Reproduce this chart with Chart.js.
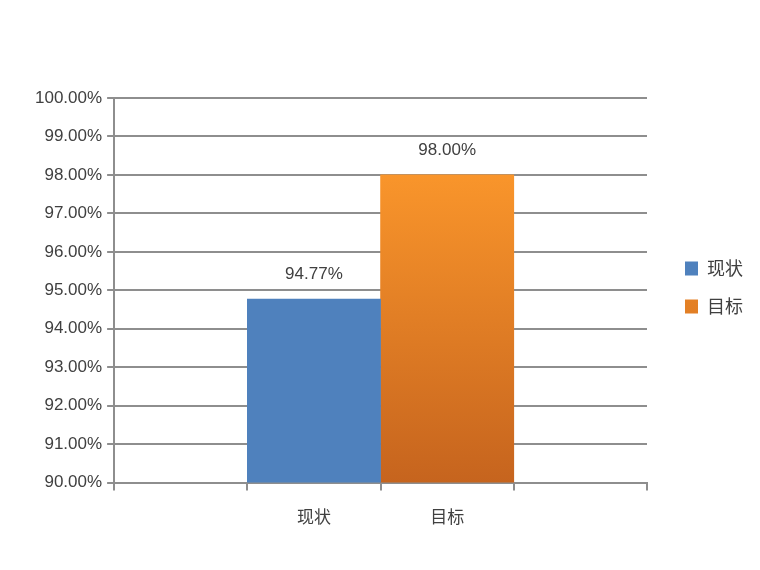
<!DOCTYPE html>
<html lang="zh">
<head>
    <meta charset="UTF-8">
    <title>现状与目标</title>
    <script src="https://cdn.jsdelivr.net/npm/chart.js"></script>
    <style>
        html, body { margin: 0; padding: 0; background: #fff; }
        #chart-container { width: 760px; height: 570px; }
    </style>
</head>
<body>
    <div id="chart-container">
        <canvas id="barChart"></canvas>
    </div>
    <script>
        // 数据
        var categories = ['', '现状', '目标', ''];
        var seriesNames = ['现状', '目标'];
        var currentValues = [null, 94.77, null, null];
        var targetValues = [null, null, 98.00, null];
        var yMin = 90, yMax = 100, yStep = 1;

        var gridColor = '#8e8e8e';
        var textColor = '#404040';
        var latin = '"Liberation Sans", Arial, sans-serif';
        var cjk = '"Noto Sans CJK SC", "Liberation Sans", sans-serif';

        // 橙色柱子的渐变
        function orangeFill(context) {
            var chart = context.chart;
            var area = chart.chartArea;
            if (!area) return '#F39030';
            var top = chart.scales.y.getPixelForValue(98);
            var g = chart.ctx.createLinearGradient(0, top, 0, area.bottom);
            g.addColorStop(0, '#F9952B');
            g.addColorStop(1, '#C6641E');
            return g;
        }

        // 柱顶数值标签
        var valueLabels = {
            id: 'valueLabels',
            afterDatasetsDraw: function(chart) {
                var ctx = chart.ctx;
                ctx.save();
                ctx.font = '17px ' + latin;
                ctx.fillStyle = textColor;
                ctx.textAlign = 'center';
                ctx.textBaseline = 'bottom';
                chart.data.datasets.forEach(function(ds, i) {
                    var meta = chart.getDatasetMeta(i);
                    meta.data.forEach(function(bar, j) {
                        var v = ds.data[j];
                        if (v === null) return;
                        ctx.fillText(v.toFixed(2) + '%', bar.x, bar.y - 16);
                    });
                });
                ctx.restore();
            }
        };

        // 图例位置微调：离绘图区远一点，并往上移
        var legendShift = {
            id: 'legendShift',
            afterLayout: function(chart) {
                var lg = chart.legend;
                lg.left += 18;
                lg.right += 18;
                lg.bottom -= 66;
            }
        };

        var ctx = document.getElementById('barChart').getContext('2d');
        new Chart(ctx, {
            type: 'bar',
            data: {
                labels: categories,
                datasets: [
                    {
                        label: seriesNames[0],
                        data: currentValues,
                        backgroundColor: '#4F81BD',
                        borderWidth: 0
                    },
                    {
                        label: seriesNames[1],
                        data: targetValues,
                        backgroundColor: orangeFill,
                        borderWidth: 0
                    }
                ]
            },
            options: {
                responsive: true,
                maintainAspectRatio: false,
                animation: false,
                grouped: false,
                barPercentage: 1,
                categoryPercentage: 1,
                layout: { padding: { top: 98, left: 30, right: 25, bottom: 27 } },
                plugins: {
                    legend: {
                        position: 'right',
                        labels: {
                            boxWidth: 13,
                            boxHeight: 14,
                            padding: 20,
                            color: textColor,
                            font: { family: cjk, size: 18 }
                        }
                    },
                    tooltip: { enabled: false }
                },
                scales: {
                    x: {
                        offset: true,
                        grid: {
                            offset: true,
                            drawOnChartArea: false,
                            color: gridColor,
                            lineWidth: 2,
                            tickLength: 8
                        },
                        border: { color: gridColor, width: 2 },
                        ticks: {
                            color: textColor,
                            padding: 16,
                            font: { family: cjk, size: 17 }
                        }
                    },
                    y: {
                        min: yMin,
                        max: yMax,
                        grid: {
                            color: gridColor,
                            lineWidth: 2,
                            tickLength: 7
                        },
                        border: { color: gridColor, width: 2 },
                        ticks: {
                            stepSize: yStep,
                            color: textColor,
                            padding: 5,
                            font: { family: latin, size: 17 },
                            callback: function(v) { return v.toFixed(2) + '%'; }
                        }
                    }
                }
            },
            plugins: [valueLabels, legendShift]
        });
    </script>
</body>
</html>
